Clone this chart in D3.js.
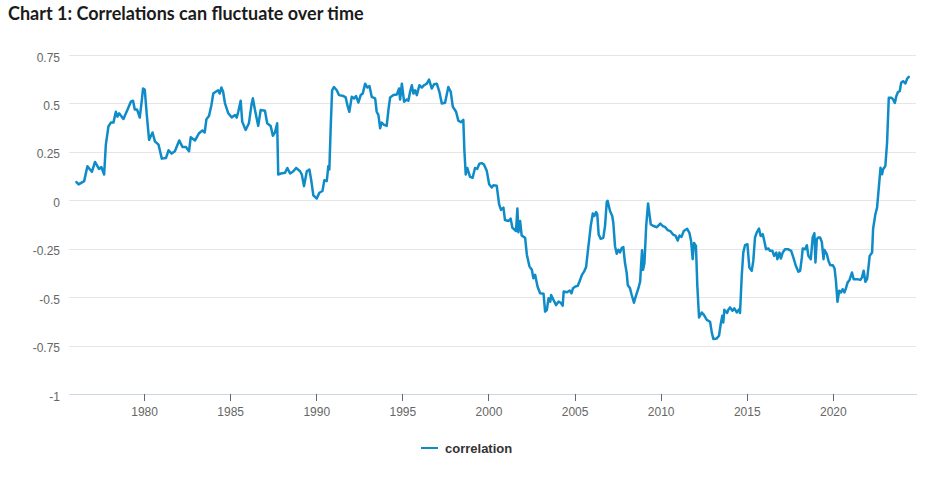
<!DOCTYPE html>
<html>
<head>
<meta charset="utf-8">
<script src="https://cdn.jsdelivr.net/npm/d3@7/dist/d3.min.js"></script>
<style>
  body { margin: 0; background: #fff; }
  svg { display: block; font-family: "Liberation Sans", Arial, sans-serif; }
</style>
</head>
<body>
<svg id="chart" width="942" height="477"></svg>
<script>
var title = 'Chart 1: Correlations can fluctuate over time';
var seriesName = 'correlation';

// decimal years
var dates = [
  1976.07, 1976.2, 1976.52, 1976.71, 1976.97, 1977.15, 1977.38, 1977.52, 1977.68, 1977.78,
  1977.93, 1978.07, 1978.22, 1978.36, 1978.45, 1978.55, 1978.8, 1979.03, 1979.23, 1979.36,
  1979.46, 1979.59, 1979.75, 1979.86, 1979.94, 1980.04, 1980.15, 1980.29, 1980.49, 1980.63,
  1980.84, 1981.03, 1981.27, 1981.42, 1981.6, 1981.79, 1982.04, 1982.23, 1982.43, 1982.61,
  1982.71, 1982.96, 1983.19, 1983.39, 1983.52, 1983.62, 1983.77, 1983.91, 1984.02, 1984.16,
  1984.3, 1984.39, 1984.49, 1984.59, 1984.7, 1984.89, 1985.09, 1985.28, 1985.38, 1985.47,
  1985.61, 1985.7, 1985.9, 1986.09, 1986.25, 1986.32, 1986.44, 1986.63, 1986.77, 1987.02,
  1987.15, 1987.35, 1987.48, 1987.6, 1987.73, 1987.79, 1987.95, 1988.19, 1988.32, 1988.48,
  1988.67, 1988.83, 1989.06, 1989.16, 1989.29, 1989.45, 1989.6, 1989.7, 1989.83, 1990.03,
  1990.18, 1990.36, 1990.47, 1990.61, 1990.7, 1990.76, 1990.84, 1990.92, 1991.03, 1991.19,
  1991.32, 1991.58, 1991.71, 1991.83, 1991.92, 1992.06, 1992.2, 1992.31, 1992.45, 1992.58,
  1992.7, 1992.84, 1992.97, 1993.09, 1993.22, 1993.42, 1993.51, 1993.61, 1993.71, 1993.8,
  1993.94, 1994.09, 1994.19, 1994.29, 1994.48, 1994.68, 1994.81, 1994.87, 1994.97, 1995.1,
  1995.26, 1995.35, 1995.45, 1995.55, 1995.64, 1995.74, 1995.84, 1995.99, 1996.13, 1996.26,
  1996.42, 1996.55, 1996.71, 1996.84, 1997.0, 1997.15, 1997.29, 1997.48, 1997.67, 1997.81,
  1997.93, 1998.12, 1998.25, 1998.41, 1998.54, 1998.6, 1998.68, 1998.77, 1998.93, 1999.08,
  1999.22, 1999.35, 1999.47, 1999.61, 1999.74, 1999.9, 2000.04, 2000.19, 2000.29, 2000.48,
  2000.62, 2000.73, 2000.87, 2000.96, 2001.16, 2001.29, 2001.39, 2001.51, 2001.6, 2001.68,
  2001.74, 2001.84, 2001.93, 2002.13, 2002.23, 2002.38, 2002.52, 2002.61, 2002.71, 2002.85,
  2003.0, 2003.2, 2003.29, 2003.39, 2003.49, 2003.59, 2003.64, 2003.78, 2003.93, 2004.07,
  2004.2, 2004.31, 2004.37, 2004.56, 2004.72, 2004.82, 2004.91, 2005.05, 2005.18, 2005.29,
  2005.43, 2005.56, 2005.67, 2005.75, 2005.85, 2005.94, 2006.06, 2006.15, 2006.25, 2006.32,
  2006.4, 2006.52, 2006.67, 2006.77, 2006.87, 2006.92, 2007.06, 2007.19, 2007.25, 2007.35,
  2007.45, 2007.54, 2007.64, 2007.74, 2007.83, 2007.93, 2008.03, 2008.09, 2008.22, 2008.32,
  2008.45, 2008.55, 2008.71, 2008.81, 2008.86, 2008.92, 2008.98, 2009.06, 2009.16, 2009.27,
  2009.35, 2009.43, 2009.59, 2009.78, 2009.98, 2010.13, 2010.27, 2010.41, 2010.56, 2010.72,
  2010.86, 2010.99, 2011.09, 2011.21, 2011.34, 2011.54, 2011.67, 2011.77, 2011.86, 2011.94,
  2012.05, 2012.13, 2012.23, 2012.39, 2012.52, 2012.68, 2012.87, 2012.97, 2013.06, 2013.26,
  2013.39, 2013.49, 2013.58, 2013.64, 2013.7, 2013.86, 2013.93, 2014.03, 2014.17, 2014.28,
  2014.42, 2014.56, 2014.61, 2014.71, 2014.8, 2014.9, 2015.04, 2015.15, 2015.29, 2015.38,
  2015.48, 2015.58, 2015.71, 2015.81, 2015.93, 2016.02, 2016.12, 2016.26, 2016.35, 2016.49,
  2016.59, 2016.71, 2016.78, 2016.9, 2016.98, 2017.09, 2017.22, 2017.42, 2017.58, 2017.71,
  2017.85, 2018.0, 2018.1, 2018.2, 2018.25, 2018.39, 2018.49, 2018.58, 2018.72, 2018.83,
  2018.93, 2018.99, 2019.07, 2019.17, 2019.26, 2019.36, 2019.46, 2019.51, 2019.65, 2019.75,
  2019.85, 2020.0, 2020.1, 2020.18, 2020.27, 2020.37, 2020.47, 2020.57, 2020.67, 2020.76,
  2020.86, 2020.97, 2021.11, 2021.21, 2021.4, 2021.6, 2021.69, 2021.79, 2021.89, 2021.99,
  2022.08, 2022.14, 2022.28, 2022.34, 2022.47, 2022.57, 2022.67, 2022.77, 2022.86, 2022.92,
  2023.05, 2023.15, 2023.25, 2023.41, 2023.5, 2023.6, 2023.69, 2023.79, 2023.89, 2023.97,
  2024.08, 2024.22, 2024.31, 2024.41
];

var correlation = [
  0.094, 0.082, 0.099, 0.176, 0.147, 0.198, 0.162, 0.172, 0.133, 0.287,
  0.381, 0.401, 0.401, 0.457, 0.432, 0.449, 0.42, 0.466, 0.509, 0.514,
  0.469, 0.469, 0.427, 0.509, 0.577, 0.572, 0.449, 0.312, 0.35, 0.304,
  0.287, 0.215, 0.218, 0.258, 0.241, 0.253, 0.309, 0.275, 0.275, 0.253,
  0.326, 0.309, 0.346, 0.36, 0.35, 0.418, 0.435, 0.491, 0.551, 0.56,
  0.568, 0.551, 0.582, 0.56, 0.5, 0.449, 0.428, 0.44, 0.427, 0.457,
  0.514, 0.406, 0.363, 0.398, 0.5, 0.526, 0.466, 0.384, 0.466, 0.462,
  0.398, 0.384, 0.333, 0.35, 0.398, 0.133, 0.138, 0.142, 0.167, 0.138,
  0.15, 0.167, 0.15, 0.133, 0.073, 0.15, 0.159, 0.108, 0.026, 0.009,
  0.039, 0.048, 0.104, 0.099, 0.176, 0.159, 0.381, 0.568, 0.585, 0.568,
  0.543, 0.538, 0.531, 0.483, 0.457, 0.534, 0.526, 0.538, 0.505, 0.543,
  0.551, 0.602, 0.582, 0.59, 0.534, 0.526, 0.457, 0.44, 0.372, 0.401,
  0.389, 0.384, 0.466, 0.531, 0.543, 0.546, 0.577, 0.52, 0.602, 0.509,
  0.52, 0.514, 0.56, 0.594, 0.551, 0.568, 0.543, 0.594, 0.582, 0.594,
  0.602, 0.623, 0.577, 0.599, 0.602, 0.56, 0.5, 0.503, 0.585, 0.56,
  0.483, 0.457, 0.411, 0.403, 0.415, 0.261, 0.133, 0.167, 0.121, 0.116,
  0.167, 0.162, 0.189, 0.192, 0.185, 0.153, 0.083, 0.066, 0.078, 0.075,
  -0.021, -0.05, -0.038, -0.102, -0.107, -0.095, -0.142, -0.151, -0.159, -0.043,
  -0.165, -0.107, -0.182, -0.194, -0.281, -0.341, -0.359, -0.402, -0.385, -0.445,
  -0.48, -0.483, -0.575, -0.567, -0.506, -0.523, -0.489, -0.515, -0.541, -0.523,
  -0.529, -0.544, -0.471, -0.475, -0.466, -0.48, -0.454, -0.445, -0.442, -0.419,
  -0.385, -0.367, -0.345, -0.281, -0.203, -0.133, -0.068, -0.081, -0.061, -0.073,
  -0.177, -0.199, -0.194, -0.133, -0.009, -0.003, -0.055, -0.081, -0.116, -0.237,
  -0.276, -0.255, -0.269, -0.246, -0.241, -0.324, -0.376, -0.437, -0.454, -0.489,
  -0.529, -0.497, -0.454, -0.419, -0.341, -0.258, -0.359, -0.324, -0.133, -0.016,
  -0.073, -0.125, -0.133, -0.139, -0.12, -0.133, -0.139, -0.154, -0.159, -0.177,
  -0.182, -0.208, -0.182, -0.189, -0.159, -0.147, -0.168, -0.211, -0.304, -0.22,
  -0.235, -0.442, -0.605, -0.579, -0.593, -0.617, -0.627, -0.682, -0.716, -0.713,
  -0.699, -0.639, -0.596, -0.631, -0.565, -0.582, -0.565, -0.553, -0.57, -0.558,
  -0.579, -0.562, -0.582, -0.39, -0.27, -0.232, -0.227, -0.347, -0.364, -0.313,
  -0.192, -0.167, -0.146, -0.184, -0.175, -0.21, -0.253, -0.249, -0.261, -0.261,
  -0.287, -0.27, -0.304, -0.27, -0.301, -0.27, -0.253, -0.253, -0.261, -0.296,
  -0.338, -0.369, -0.364, -0.296, -0.249, -0.253, -0.232, -0.287, -0.304, -0.192,
  -0.17, -0.321, -0.201, -0.192, -0.192, -0.215, -0.304, -0.256, -0.278, -0.313,
  -0.335, -0.335, -0.352, -0.416, -0.524, -0.467, -0.476, -0.459, -0.476, -0.455,
  -0.424, -0.411, -0.373, -0.407, -0.407, -0.411, -0.399, -0.364, -0.421, -0.407,
  -0.338, -0.287, -0.27, -0.146, -0.072, -0.038, 0.065, 0.168, 0.134, 0.16,
  0.177, 0.297, 0.529, 0.529, 0.521, 0.503, 0.538, 0.56, 0.564, 0.607,
  0.615, 0.603, 0.627, 0.637
];

var xTicks = [1980, 1985, 1990, 1995, 2000, 2005, 2010, 2015, 2020];
var yTicks = [-1, -0.75, -0.5, -0.25, 0, 0.25, 0.5, 0.75];

var svg = d3.select('#chart');
var plotLeft = 69, plotRight = 916, plotTop = 55, plotBottom = 394;
var lineColor = '#0f8cc8';

var x = d3.scaleLinear().domain([1975.64, 2024.83]).range([plotLeft, plotRight]);
var y = d3.scaleLinear().domain([-1, 0.75]).range([plotBottom, plotTop]);

// Title
svg.append('text')
    .attr('x', 8)
    .attr('y', 20)
    .style('font-family', 'Lato, "Open Sans", sans-serif')
    .style('font-weight', 'bold')
    .style('font-size', '18px')
    .style('fill', '#1b1b1b')
    .text(title);

// Horizontal grid + y labels
var yAxis = d3.axisLeft(y)
    .tickValues(yTicks)
    .tickSize(-(plotRight - plotLeft))
    .tickPadding(9)
    .tickFormat(function(d) { return String(d); });

var gY = svg.append('g')
    .attr('transform', 'translate(' + plotLeft + ',0)')
    .call(yAxis);
gY.select('.domain').remove();
gY.selectAll('.tick line')
    .style('stroke', '#e6e6e6')
    .style('stroke-width', 1)
    .attr('shape-rendering', 'crispEdges');
gY.selectAll('.tick text')
    .attr('dy', '0.5em')
    .style('fill', '#666666')
    .style('font-size', '12px');

// Bottom axis
var xAxis = d3.axisBottom(x)
    .tickValues(xTicks)
    .tickSizeInner(7)
    .tickSizeOuter(0)
    .tickPadding(6)
    .tickFormat(d3.format('d'));

var gX = svg.append('g')
    .attr('transform', 'translate(0,' + plotBottom + ')')
    .call(xAxis);
gX.select('.domain')
    .style('stroke', '#ccd6eb')
    .style('stroke-width', 1)
    .attr('shape-rendering', 'crispEdges');
gX.selectAll('.tick line')
    .style('stroke', '#666666')
    .attr('shape-rendering', 'crispEdges');
gX.selectAll('.tick text')
    .style('fill', '#666666')
    .style('font-size', '12px');

// Series line
var line = d3.line()
    .x(function(d, i) { return x(dates[i]); })
    .y(function(d) { return y(d); });

svg.append('path')
    .datum(correlation)
    .attr('d', line)
    .style('fill', 'none')
    .style('stroke', lineColor)
    .style('stroke-width', 2.5)
    .style('stroke-linejoin', 'round')
    .style('stroke-linecap', 'round');

// Legend
var gLegend = svg.append('g')
    .attr('transform', 'translate(421,448)');
gLegend.append('line')
    .attr('x1', 0)
    .attr('x2', 17)
    .attr('y1', 0)
    .attr('y2', 0)
    .style('stroke', lineColor)
    .style('stroke-width', 2);
gLegend.append('text')
    .attr('x', 24)
    .attr('y', 5)
    .style('font-weight', 'bold')
    .style('font-size', '13px')
    .style('fill', '#333333')
    .text(seriesName);
</script>
</body>
</html>
